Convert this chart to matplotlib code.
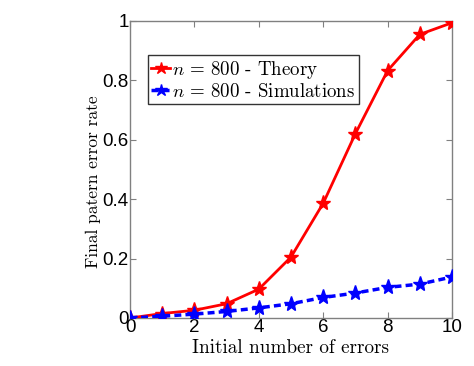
import matplotlib
matplotlib.use("Agg")
import matplotlib.pyplot as plt

x_errors = [0, 1, 2, 3, 4, 5, 6, 7, 8, 9, 10]
theory = [0.0, 0.015, 0.026, 0.048, 0.097, 0.205, 0.386, 0.62, 0.832, 0.954, 0.993]
simulations = [0.0, 0.006, 0.013, 0.022, 0.034, 0.048, 0.069, 0.084, 0.103, 0.114, 0.138]
x_ticks = [0, 2, 4, 6, 8, 10]
y_ticks = [0, 0.2, 0.4, 0.6, 0.8, 1]
y_ticklabels = ["0", "0.2", "0.4", "0.6", "0.8", "1"]

plt.rcParams['mathtext.fontset'] = 'cm'
plt.rcParams['axes.unicode_minus'] = False

fig = plt.figure(figsize=(4.74, 3.66), dpi=100)
ax = fig.add_axes([130/474, 1-318/366, (452-130)/474, (318-20.7)/366])

ax.plot(x_errors, theory, color='#ff0000', lw=2, ls='-', marker='*', ms=11,
        label=r'$n\,=\,800$ - Theory', zorder=3)
ax.plot(x_errors, simulations, color='#0000ff', lw=2.5, ls=(0, (2, 1.2)), marker='*', ms=11,
        label=r'$n\,=\,800$ - Simulations', zorder=3)

ax.set_xlim(0, 10)
ax.set_ylim(0, 1)
ax.set_xticks(x_ticks)
ax.set_yticks(y_ticks)
ax.set_yticklabels(y_ticklabels)
for lab in ax.get_xticklabels() + ax.get_yticklabels():
    lab.set_family('Liberation Sans')
    lab.set_fontsize(13.5)
ax.tick_params(direction='in', top=True, right=True, length=4, width=0.8,
               color='#808080', pad=1)
for s in ax.spines.values():
    s.set_color('#808080')
    s.set_linewidth(1.0)

ax.set_xlabel('Initial number of errors', family='cmr10', fontsize=13.8, labelpad=2)
ax.set_ylabel('Final patern error rate', family='cmr10', fontsize=12.5)
ax.yaxis.set_label_coords(-0.09, 0.46)

leg = ax.legend(loc='upper left', bbox_to_anchor=(0.055, 0.885),
                prop={'family': 'cmr10', 'size': 13.6},
                handlelength=1.0, handletextpad=0.1, borderpad=0.2,
                labelspacing=0.1, borderaxespad=0, fancybox=False, framealpha=1,
                edgecolor='#333333', markerscale=0.85)
leg.get_frame().set_linewidth(1.0)

fig.savefig('out.png', dpi=100)
